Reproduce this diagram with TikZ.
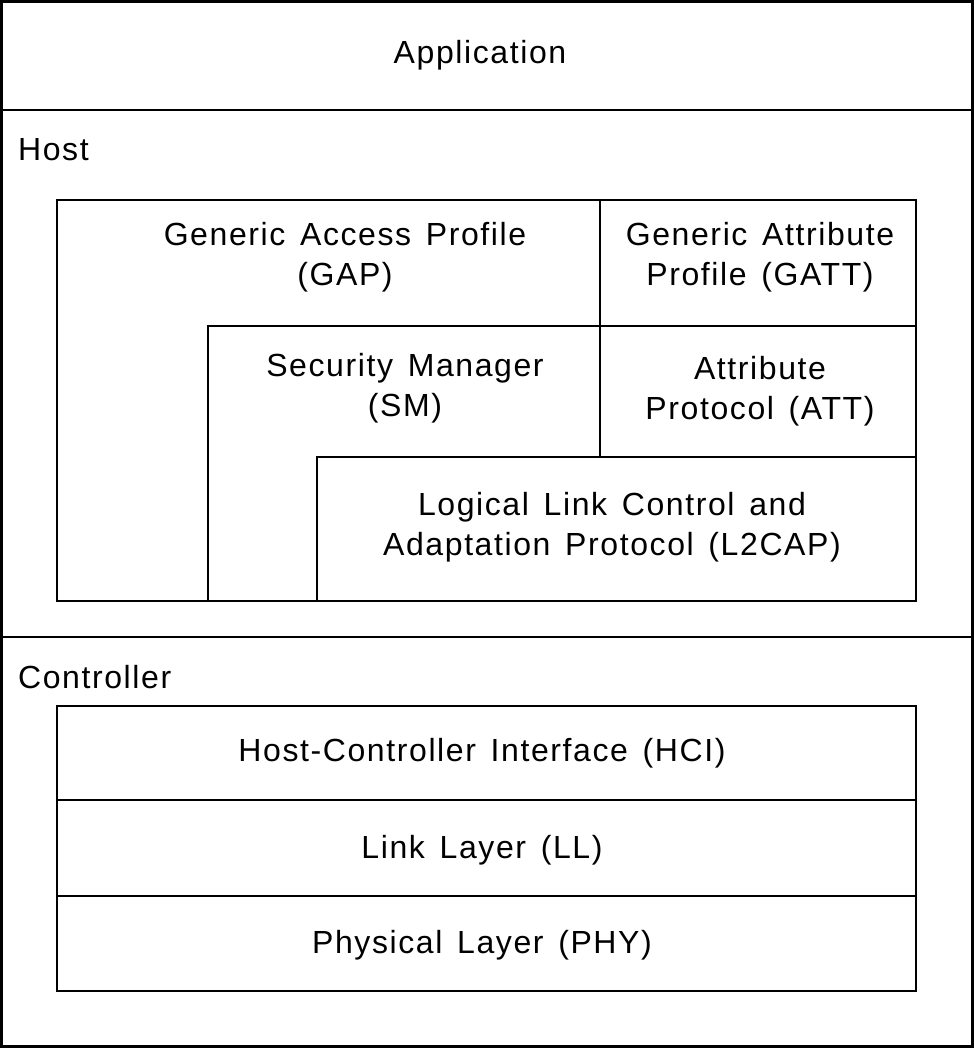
\documentclass[tikz,border=0pt]{standalone}
\usepackage{fontspec}
\setmainfont{Liberation Sans}[LetterSpace=5,WordSpace=1.4]
\begin{document}
\begin{tikzpicture}[x=1pt,y=-1pt,line width=2.2pt,
  lbl/.style={font=\fontsize{32}{40}\selectfont,align=center,inner sep=0pt},
  hd/.style={font=\fontsize{32}{40}\selectfont,anchor=west,inner sep=0pt}]
\useasboundingbox (0,0) rectangle (974,1049);
\fill[white] (0,0) rectangle (974,1049);
% outer frames
\draw[line width=3pt] (1.5,1.5) rectangle (972.5,1046);
\draw (0,110) -- (974,110);
\draw (0,637) -- (974,637);
% host
\draw (57,200) rectangle (916,601);
\draw (600,200) -- (600,457);
\draw (600,326) -- (916,326);
\draw (208,601) -- (208,326) -- (600,326);
\draw (317,601) -- (317,457) -- (916,457);
% controller
\draw (57,706) rectangle (916,991);
\draw (57,800) -- (916,800);
\draw (57,896) -- (916,896);
\node[lbl] (app) at (480,55) {Application};
\node[hd] (host) at (17,150) {Host};
\node[hd] (ctl) at (17,677) {Controller};
\node[lbl] (gap) at (345,257) {Generic Access Profile\\(GAP)};
\node[lbl] (gatt) at (760,257) {Generic Attribute\\Profile (GATT)};
\node[lbl] (sm) at (405,388) {Security Manager\\(SM)};
\node[lbl] (att) at (760,391) {Attribute\\Protocol (ATT)};
\node[lbl] (l2) at (612,527) {Logical Link Control and\\Adaptation Protocol (L2CAP)};
\node[lbl] (hci) at (482,753) {Host-Controller Interface (HCI)};
\node[lbl] (ll) at (482,850) {Link Layer (LL)};
\node[lbl] (phy) at (482,945) {Physical Layer (PHY)};
\end{tikzpicture}
\end{document}
